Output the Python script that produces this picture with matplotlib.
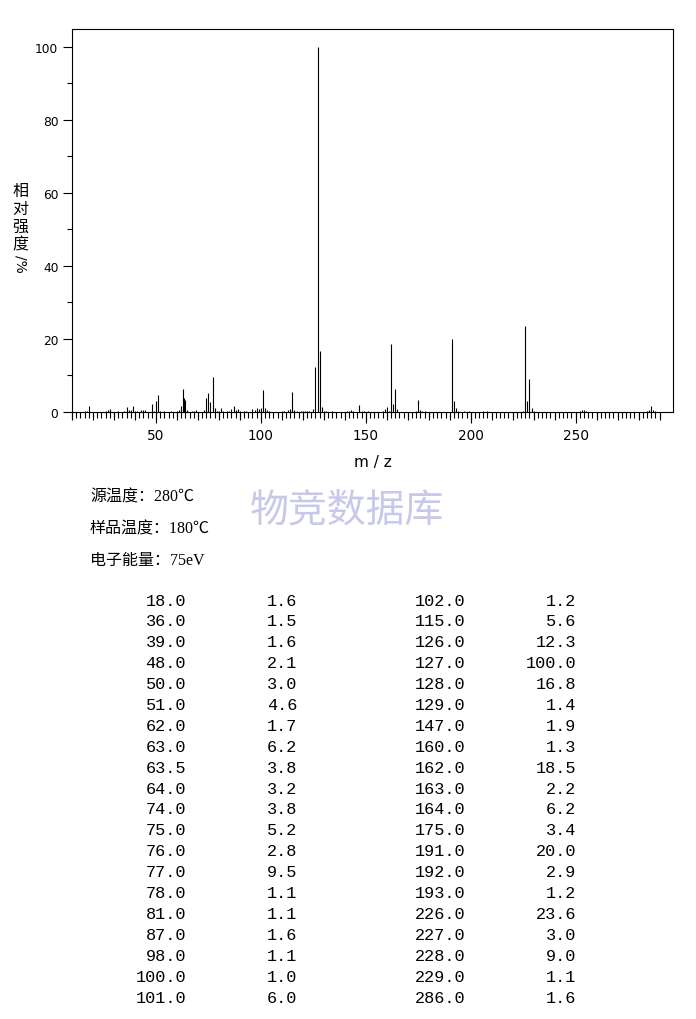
import matplotlib
matplotlib.use("Agg")
import matplotlib.pyplot as plt
import numpy as np

# Peaks listed in the table (m/z, relative intensity %)
table_mz = [18.0, 36.0, 39.0, 48.0, 50.0, 51.0, 62.0, 63.0, 63.5, 64.0,
            74.0, 75.0, 76.0, 77.0, 78.0, 81.0, 87.0, 98.0, 100.0, 101.0,
            102.0, 115.0, 126.0, 127.0, 128.0, 129.0, 147.0, 160.0, 162.0, 163.0,
            164.0, 175.0, 191.0, 192.0, 193.0, 226.0, 227.0, 228.0, 229.0, 286.0]
table_int = [1.6, 1.5, 1.6, 2.1, 3.0, 4.6, 1.7, 6.2, 3.8, 3.2,
             3.8, 5.2, 2.8, 9.5, 1.1, 1.1, 1.6, 1.1, 1.0, 6.0,
             1.2, 5.6, 12.3, 100.0, 16.8, 1.4, 1.9, 1.3, 18.5, 2.2,
             6.2, 3.4, 20.0, 2.9, 1.2, 23.6, 3.0, 9.0, 1.1, 1.6]

# Small peaks (< 1 %)
minor_mz = [16, 17, 26, 27, 28, 32, 35, 37, 38, 40, 41, 43, 44, 45, 49, 52, 54,
            57, 60, 61, 65, 67, 68, 69, 73, 79, 80, 82, 84, 85, 86, 88, 89, 90,
            92, 93, 96, 97, 99, 103, 104, 110, 111, 113, 114, 116, 117, 119, 120,
            121, 122, 123, 125, 130, 131, 134, 141, 142, 143, 144, 148, 149, 151,
            158, 159, 161, 165, 174, 176, 177, 178, 194, 197, 199, 206, 208, 225,
            230, 252, 253, 254, 255, 284, 285, 287, 288]
minor_int = [0.3, 0.3, 0.3, 0.45, 0.7, 0.3, 0.3, 0.45, 0.45, 0.3, 0.3, 0.5, 0.5, 0.45, 0.3, 0.4, 0.3,
             0.3, 0.3, 0.5, 0.5, 0.3, 0.3, 0.45, 0.5, 0.4, 0.3, 0.4, 0.2, 0.3, 0.8, 0.45, 0.7, 0.3,
             0.3, 0.3, 0.8, 0.45, 0.9, 0.45, 0.3, 0.3, 0.3, 0.45, 0.8, 0.5, 0.3, 0.3, 0.3,
             0.3, 0.3, 0.3, 0.7, 0.3, 0.3, 0.3, 0.3, 0.4, 0.45, 0.3, 0.3, 0.3, 0.3,
             0.4, 0.9, 0.4, 0.8, 0.3, 0.5, 0.4, 0.3, 0.3, 0.3, 0.3, 0.3, 0.3, 0.3,
             0.4, 0.3, 0.45, 0.5, 0.3, 0.4, 0.6, 0.5, 0.3]

info_lines = ["源温度：280℃", "样品温度：180℃", "电子能量：75eV"]
ylabel_chars = ["相", "对", "强", "度"]

W, H = 696, 1020
fig = plt.figure(figsize=(W / 100, H / 100), dpi=100)
fig.patch.set_facecolor("white")

def fx(px):
    return px / W

def fy(py):
    return 1 - py / H

ax = fig.add_axes([fx(72), fy(413), fx(673) - fx(72), fy(29.5) - fy(413)])

mz_all = np.array(table_mz + minor_mz, dtype=float)
int_all = np.array(table_int + minor_int, dtype=float)
ax.vlines(mz_all, 0, int_all, colors="black", linewidth=0.8)

ax.set_xlim(10, 296.4)
ax.set_ylim(0, 105)

for sp in ax.spines.values():
    sp.set_linewidth(0.8)

# x ticks: long every 50, short every 2, medium every 10 (secondary axis)
ax.set_xticks([50, 100, 150, 200, 250])
ax.set_xticks(np.arange(10, 291, 2), minor=True)
ax.tick_params(axis="x", which="major", direction="out", length=8, width=0.8,
               pad=3.5, labelsize=9.8, colors="black")
ax.tick_params(axis="x", which="minor", direction="out", length=4, width=0.8)
sec = ax.secondary_xaxis("bottom")
sec.set_xticks(np.arange(10, 291, 10))
sec.set_xticklabels([])
sec.tick_params(axis="x", direction="out", length=5.5, width=0.8)
sec.spines["bottom"].set_visible(False)

# y ticks
ax.set_yticks([0, 20, 40, 60, 80, 100])
ax.set_yticks([10, 30, 50, 70, 90], minor=True)
ax.tick_params(axis="y", which="major", direction="out", length=6.8, width=0.8,
               pad=3, labelsize=8.8)
ax.tick_params(axis="y", which="minor", direction="out", length=3.5, width=0.8)

ax.set_xlabel("m / z", fontsize=11, labelpad=9)

# stacked vertical y label
cjk = ["Noto Sans CJK SC", "DejaVu Sans"]
for i, ch in enumerate(ylabel_chars):
    fig.text(fx(20.5), fy(191 + 18 * i), ch, fontsize=11.5, family=cjk,
             ha="center", va="center")
fig.text(fx(20.5), fy(264), "/%", fontsize=10, rotation=-90,
         ha="center", va="center")

# instrument info
serif_cjk = ["Liberation Serif", "Noto Sans CJK SC"]
for i, line in enumerate(info_lines):
    fig.text(fx(90), fy(497 + 32 * i), line, fontsize=11.5, family=serif_cjk,
             ha="left", va="center")

# watermark
fig.text(fx(347.5), fy(512), "物竞数据库", fontsize=28, family=cjk,
         color="#c8c8ea", ha="center", va="center")

# peak table
col_x = [186, 297, 465, 576]
n_rows = 20
for r in range(n_rows):
    y = fy(601 + 20.9 * r)
    left_vals = (table_mz[r], table_int[r])
    right_vals = (table_mz[r + n_rows], table_int[r + n_rows])
    for cx, v in zip(col_x, left_vals + right_vals):
        fig.text(fx(cx), y, f"{v:.1f}", fontsize=12.2, family="Liberation Mono",
                 ha="right", va="center")

fig.savefig("out.png", dpi=100)
